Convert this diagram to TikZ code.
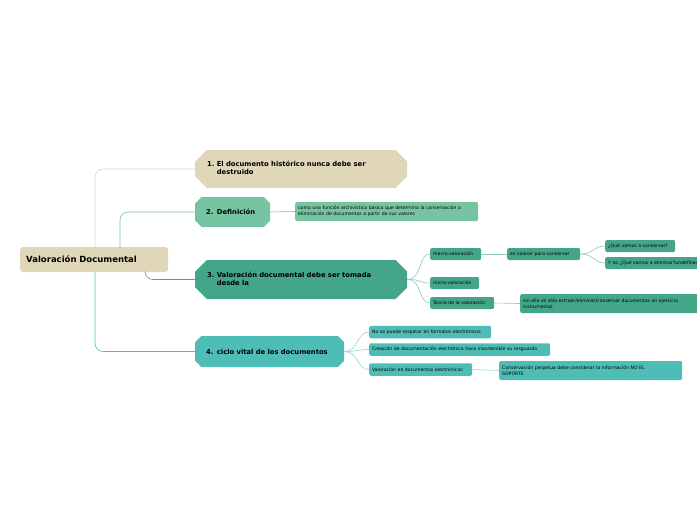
\documentclass[tikz,border=0pt]{standalone}
\usepackage{fontspec}
\setmainfont{DejaVu Sans}
\usetikzlibrary{shapes.misc}
\definecolor{beige}{HTML}{DFD7B8}
\definecolor{cgreen}{HTML}{76C4A1}
\definecolor{cteal}{HTML}{43A68A}
\definecolor{cturq}{HTML}{4DBDB5}
\tikzset{
  main/.style={chamfered rectangle, chamfered rectangle xsep=8pt, chamfered rectangle angle=45, inner sep=0pt, anchor=west, font=\bfseries\fontsize{6.8}{8}\selectfont, text=black, align=left, minimum height=#1},
  leaf/.style={rounded corners=2pt, anchor=west, font=\fontsize{4.6}{6}\selectfont, text=black, align=left, inner xsep=3pt, inner ysep=0pt, text width=#1-6pt},
  con/.style={line width=0.6pt, rounded corners=8pt}
}
\begin{document}
\begin{tikzpicture}[x=1pt,y=-1pt]
\useasboundingbox (0,0) rectangle (697,520);
\clip (0,0) rectangle (697,520);
% root
\node[fill=beige, rounded corners=3pt, minimum height=25pt, text width=136pt, inner xsep=6pt, align=left, font=\bfseries\fontsize{8.5}{10}\selectfont, anchor=west] (root) at (20,259.5) {Valoración Documental};
% main nodes
\node[main=38pt, fill=beige, minimum width=210pt, text width=196pt] (n1) at (195,169) {\hspace*{4pt}1.\ \begin{tabular}[t]{@{}l@{}}El documento histórico nunca debe ser\\destruido\end{tabular}};
\node[main=30pt, fill=cgreen, minimum width=75pt, text width=61pt] (n2) at (195,212) {\hspace*{4pt}2. Definición};
\node[main=39pt, fill=cteal, minimum width=210pt, text width=196pt] (n3) at (195,279.5) {\hspace*{4pt}3.\ \begin{tabular}[t]{@{}l@{}}Valoración documental debe ser tomada\\desde la\end{tabular}};
\node[main=31pt, fill=cturq, minimum width=149pt, text width=135pt] (n4) at (195,351.5) {\hspace*{4pt}4. ciclo vital de los documentos};
% connectors from root
\draw[con, beige] (95,247) |- (n1.west);
\draw[con, cgreen] (120,247) |- (n2.west);
\draw[con, cteal] (145,272) |- (n3.west);
\draw[con, cturq] (95,272) |- (n4.west);
% def leaf
\node[leaf=183pt, fill=cgreen, minimum height=19pt] (d1) at (295,211.5) {como una función archivística básica que determina la conservación o\\eliminación de documentos a partir de sus valores};
\draw[cgreen, line width=0.6pt] (n2.east) -- (d1.west);
% branch 3
\node[leaf=51pt, fill=cteal, minimum height=12pt] (m1) at (430,254) {macro-valoración};
\node[leaf=49pt, fill=cteal, minimum height=12pt] (m2) at (430,283) {micro-valoración};
\node[leaf=64pt, fill=cteal, minimum height=12pt] (m3) at (430,303) {Teoría de la valoración};
\node[leaf=73pt, fill=cteal, minimum height=12pt] (e1) at (507,254) {es valorar para conservar};
\node[leaf=70pt, fill=cteal, minimum height=12pt] (q1) at (605,246) {¿Qué vamos a conservar?};
\node[leaf=100pt, fill=cteal, minimum height=12pt] (q2) at (605,263) {Y no ¿Qué vamos a eliminar?undefined};
\node[leaf=180pt, fill=cteal, minimum height=19pt] (s1) at (520,303.5) {sin ella es sólo extraer/eliminar/conservar documentos un ejercicio\\instrumental};
\foreach \t in {m1,m2,m3} \draw[cteal!60, line width=0.6pt] (n3.east) .. controls +(15,0) and +(-12,0) .. (\t.west);
\draw[cteal!60, line width=0.6pt] (m1.east) -- (e1.west);
\foreach \t in {q1,q2} \draw[cteal!60, line width=0.6pt] (e1.east) .. controls +(14,0) and +(-12,0) .. (\t.west);
\draw[cteal!60, line width=0.6pt] (m3.east) -- (s1.west);
% branch 4
\node[leaf=122pt, fill=cturq, minimum height=12.5pt] (f1) at (369,332) {No se puede respetar en formatos electrónicos};
\node[leaf=181pt, fill=cturq, minimum height=12.5pt] (f2) at (369,349.5) {Creación de documentación electrónica hace insostenible su resguardo};
\node[leaf=103pt, fill=cturq, minimum height=12.5pt] (f3) at (369,369.5) {Valoración en documentos electrónicos};
\node[leaf=183pt, fill=cturq, minimum height=19pt] (c1) at (499,370.5) {Conservación perpetua debe considerar la información NO EL\\SOPORTE};
\foreach \t in {f1,f2,f3} \draw[cturq!60, line width=0.6pt] (n4.east) .. controls +(14,0) and +(-12,0) .. (\t.west);
\draw[cturq!60, line width=0.6pt] (f3.east) -- (c1.west);
\end{tikzpicture}
\end{document}
